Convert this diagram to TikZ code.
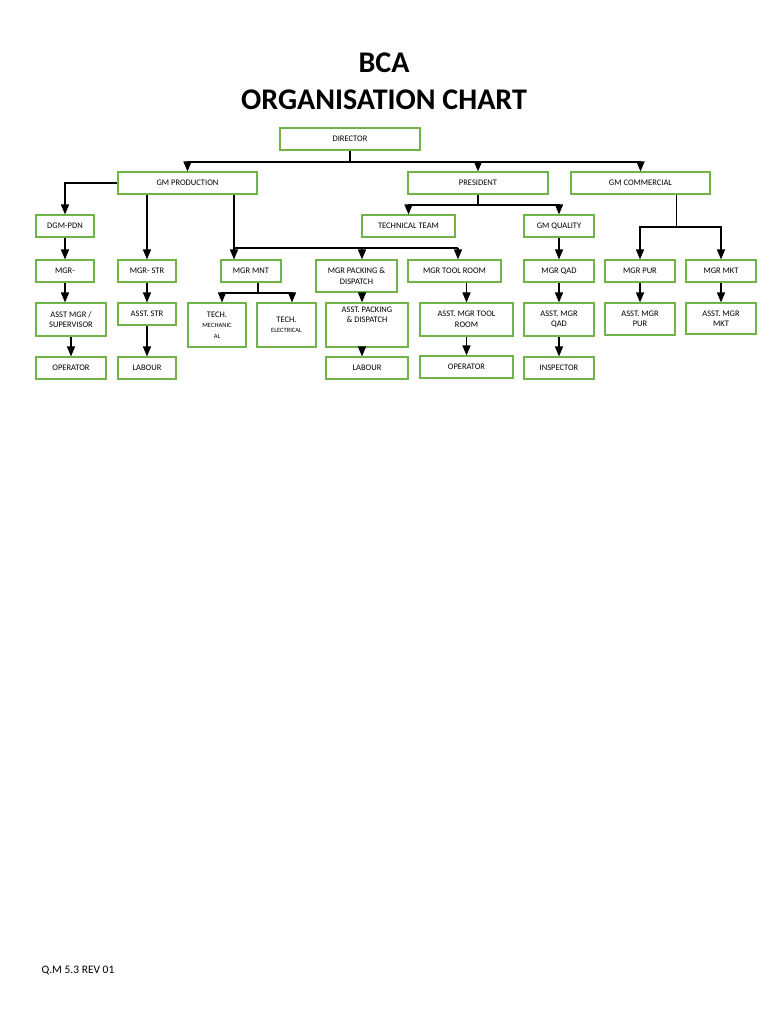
\documentclass[tikz,border=0pt]{standalone}
\usepackage{fontspec}
\setmainfont{Carlito}
\usetikzlibrary{arrows,positioning,calc}
\definecolor{boxgreen}{RGB}{112,180,72}

\begin{document}
\begin{tikzpicture}[
    x=1pt, y=-1pt,
    box/.style={rectangle, draw=boxgreen, line width=1.3pt, inner sep=1pt, align=center, font=\fontsize{8.5}{10.5}\selectfont},
    arrow/.style={-triangle 45, line width=1.3pt, shorten >=0pt},
    link/.style={line width=1.3pt}
]
    \useasboundingbox (0,0) rectangle (768,1024);
    \fill[white] (0,0) rectangle (768,1024);

    % Title
    \node[font=\fontsize{30}{33}\selectfont\bfseries] (title1) at (384,63) {BCA};
    \node[font=\fontsize{30}{33}\selectfont\bfseries] (title2) at (384,100) {ORGANISATION CHART};

    % Top levels
    \node[box, minimum width=140, minimum height=22] (director) at (350,139) {DIRECTOR};
    \node[box, minimum width=139, minimum height=22] (gmprod) at (187.5,183) {GM PRODUCTION};
    \node[box, minimum width=140, minimum height=22] (president) at (478,183) {PRESIDENT};
    \node[box, minimum width=139, minimum height=22] (gmcom) at (640.5,183) {GM COMMERCIAL};

    \node[box, minimum width=58, minimum height=22] (dgm) at (65,226) {DGM-PDN};
    \node[box, minimum width=93, minimum height=22] (techteam) at (408.5,226) {TECHNICAL TEAM};
    \node[box, minimum width=70, minimum height=22] (gmqual) at (559,226) {GM QUALITY};

    % Managers
    \node[box, minimum width=58, minimum height=22] (mgr) at (65,271) {MGR-};
    \node[box, minimum width=58, minimum height=22] (mgrstr) at (147,271) {MGR- STR};
    \node[box, minimum width=60, minimum height=22] (mgrmnt) at (251,271) {MGR MNT};
    \node[box, minimum width=81, minimum height=32] (mgrpack) at (356.5,276) {MGR PACKING \&\\DISPATCH};
    \node[box, minimum width=93, minimum height=22] (mgrtool) at (454.5,271) {MGR TOOL ROOM};
    \node[box, minimum width=70, minimum height=22] (mgrqad) at (559,271) {MGR QAD};
    \node[box, minimum width=70, minimum height=22] (mgrpur) at (640,271) {MGR PUR};
    \node[box, minimum width=70, minimum height=22] (mgrmkt) at (721,271) {MGR MKT};

    % Assistants
    \node[box, minimum width=70, minimum height=33] (asstmgr) at (71,319.5) {ASST MGR /\\SUPERVISOR};
    \node[box, minimum width=58, minimum height=22] (asststr) at (147,314) {ASST. STR};
    \node[box, minimum width=58, minimum height=44] (techmech) at (217,325) {TECH.\\{\fontsize{6.5}{8}\selectfont MECHANIC}\\{\fontsize{6.5}{8}\selectfont AL}};
    \node[box, minimum width=59, minimum height=44] (techelec) at (286.5,325) {TECH.\\{\fontsize{6.5}{8}\selectfont ELECTRICAL}};
    \node[box, minimum width=82, minimum height=44] (asstpack) at (367,325) {ASST. PACKING\\\& DISPATCH\\[10pt]};
    \node[box, minimum width=93, minimum height=33] (assttool) at (466.5,319.5) {ASST. MGR TOOL\\ROOM};
    \node[box, minimum width=70, minimum height=33] (asstqad) at (559,319.5) {ASST. MGR\\QAD};
    \node[box, minimum width=70, minimum height=32] (asstpur) at (640,319) {ASST. MGR\\PUR};
    \node[box, minimum width=70, minimum height=31] (asstmkt) at (721,318.5) {ASST. MGR\\MKT};

    % Bottom row
    \node[box, minimum width=70, minimum height=22] (operator1) at (71,368) {OPERATOR};
    \node[box, minimum width=58, minimum height=22] (labour1) at (147,368) {LABOUR};
    \node[box, minimum width=82, minimum height=22] (labour2) at (367,368) {LABOUR};
    \node[box, minimum width=93, minimum height=22] (operator2) at (466.5,367) {OPERATOR};
    \node[box, minimum width=70, minimum height=22] (inspector) at (559,368) {INSPECTOR};

    % Bus points
    \coordinate (dirbus) at (350,162);
    \coordinate (presbus) at (478,205);
    \coordinate (prodbus) at (234,248);
    \coordinate (packdrop) at (362,248);
    \coordinate (tooldrop) at (458,248);
    \coordinate (mntbus) at (258,293);
    \coordinate (mechdrop) at (222,293);
    \coordinate (elecdrop) at (292,293);
    \coordinate (combus) at (676,227);

    % Director
    \draw[link] (director.south) -- (dirbus);
    \draw[arrow] (dirbus) -| (gmprod.north);
    \draw[arrow] (dirbus) -| (president.north);
    \draw[arrow] (dirbus) -| (gmcom.north);

    % GM production
    \draw[arrow] (gmprod.west) -| (dgm.north);
    \draw[arrow] (gmprod.south -| mgrstr.north) -- (mgrstr.north);
    \draw[link] (gmprod.south -| prodbus) -- (prodbus) -- (tooldrop);
    \draw[arrow] (prodbus) -- (mgrmnt.north -| prodbus);
    \draw[arrow] (packdrop) -- (mgrpack.north -| packdrop);
    \draw[arrow] (tooldrop) -- (mgrtool.north -| tooldrop);

    % President
    \draw[link] (president.south) -- (presbus);
    \draw[arrow] (presbus) -| (techteam.north);
    \draw[arrow] (presbus) -| (gmqual.north);

    % GM commercial
    \draw[line width=0.6pt] (gmcom.south -| combus) -- (combus);
    \draw[arrow] (combus) -| (mgrpur.north);
    \draw[arrow] (combus) -| (mgrmkt.north);

    % Chains
    \draw[arrow] (dgm) -- (mgr);
    \draw[arrow] (mgr) -- (asstmgr.north -| mgr);
    \draw[arrow] (asstmgr) -- (operator1);
    \draw[arrow] (mgrstr) -- (asststr);
    \draw[arrow] (asststr) -- (labour1);
    \draw[link] (mgrmnt.south -| mntbus) -- (mntbus);
    \draw[arrow] (mntbus) -- (mechdrop) -- (techmech.north -| mechdrop);
    \draw[arrow] (mntbus) -- (elecdrop) -- (techelec.north -| elecdrop);
    \draw[arrow] (mgrpack.south -| packdrop) -- (asstpack.north -| packdrop);
    \draw[arrow] (asstpack.south -| packdrop) -- (labour2.north -| packdrop);
    \draw[arrow] (mgrtool.south -| assttool.north) -- (assttool.north);
    \draw[arrow] (assttool) -- (operator2);
    \draw[arrow] (gmqual) -- (mgrqad);
    \draw[arrow] (mgrqad) -- (asstqad);
    \draw[arrow] (asstqad) -- (inspector);
    \draw[arrow] (mgrpur) -- (asstpur);
    \draw[arrow] (mgrmkt) -- (asstmkt);

    % Footer
    \node[anchor=west, font=\fontsize{11.5}{13}\selectfont] (footer) at (38,971) {Q.M 5.3 REV 01};
\end{tikzpicture}
\end{document}
